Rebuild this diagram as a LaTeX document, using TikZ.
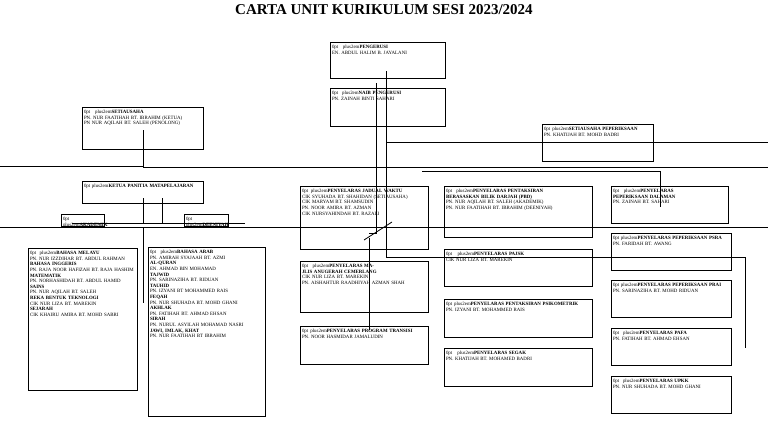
\documentclass[tikz,border=0pt]{standalone}
\usepackage{fontspec}
\setmainfont{Liberation Serif}
\begin{document}
\begin{tikzpicture}[x=1pt,y=-1pt,
  bx/.style={draw,line width=0.8pt},
  tx/.style={anchor=north,align=center,font=\fontsize{4.9}{5.6}\selectfont\hyphenpenalty=10000\exhyphenpenalty=10000,inner sep=0pt},
  ln/.style={line width=0.8pt}]
\useasboundingbox (0,0) rectangle (768,432);
\fill[white] (0,0) rectangle (768,432);
\node[font=\bfseries\fontsize{15}{16}\selectfont] (title) at (384,10) {CARTA UNIT KURIKULUM SESI 2023/2024};
\newcommand\bxx[6]{\draw[bx] (#2,#3) rectangle (#4,#5); \node[tx,text width={(#4-#2-4)*1pt}] (#1) at ({(#2+#4)/2},{#3+3}) {#6};}
\bxx{peng}{330}{42}{445}{78}{\textbf{PENGERUSI}\\EN. ABDUL HALIM B. JAYALANI}
\bxx{naib}{330}{88}{445}{126}{\textbf{NAIB PENGERUSI}\\PN. ZAINAH BINTI SAHARI}
\bxx{su}{82}{107}{203}{149}{\textbf{SETIAUSAHA}\\PN. NUR FAATIHAH BT. IBRAHIM (KETUA)\\PN NUR AQILAH BT. SALEH (PENOLONG)}
\bxx{sup}{542}{124}{653}{161}{\textbf{SETIAUSAHA PEPERIKSAAN}\\PN. KHATIJAH BT. MOHD BADRI}
\bxx{kp}{82}{181}{203}{203}{\textbf{KETUA PANITIA MATAPELAJARAN}}
\bxx{ak}{61}{214}{104}{226}{\textbf{AKADEMIK}}
\bxx{dn}{184}{214}{228}{226}{\textbf{DEENIYAH}}
\bxx{bm}{28}{248}{137}{390}{\textbf{BAHASA MELAYU}\\PN. NUR IZZDIHAR BT. ABDUL RAHMAN\\\textbf{BAHASA INGGERIS}\\PN. RAJA NOOR HAFIZAH BT. RAJA HASHIM\\\textbf{MATEMATIK}\\PN. NORHASHIDAH BT. ABDUL HAMID\\\textbf{SAINS}\\PN. NUR AQILAH BT. SALEH\\\textbf{REKA BENTUK TEKNOLOGI}\\CIK NUR LIZA BT. MAREKIN\\\textbf{SEJARAH}\\CIK KHAIRU AMIRA BT. MOHD SABRI}
\bxx{ba}{148}{247}{265}{416}{\textbf{BAHASA ARAB}\\PN. AMIRAH SYAJAAH BT. AZMI\\\textbf{AL-QURAN}\\EN. AHMAD BIN MOHAMAD\\\textbf{TAJWID}\\PN. SARINAZIHA BT. RIDUAN\\\textbf{TAUHID}\\PN. IZYANI BT MOHAMMED RAIS\\\textbf{FEQAH}\\PN. NUR SHUHADA BT. MOHD GHANI\\\textbf{AKHLAK}\\PN. FATIHAH BT. AHMAD EHSAN\\\textbf{SIRAH}\\PN. NURUL ASYILAH MOHAMAD NASRI\\\textbf{JAWI, IMLAK, KHAT}\\PN. NUR FAATIHAH BT IBRAHIM}
\bxx{jw}{300}{186}{428}{249}{\textbf{PENYELARAS JADUAL WAKTU}\\CIK SYUHADA BT. SHAHIDAN (SETIAUSAHA)\\CIK MARYAM BT. SHAMSUDIN\\PN. NOOR AMIRA BT. AZMAN\\CIK NURSYAHINDAH BT. RAZALI}
\bxx{pbd}{444}{186}{592}{237}{\textbf{PENYELARAS PENTAKSIRAN BERASASKAN BILIK DARJAH (PBD)}\\PN. NUR AQILAH BT. SALEH (AKADEMIK)\\PN. NUR FAATIHAH BT. IBRAHIM (DEENIYAH)}
\bxx{ppd}{611}{186}{728}{223}{\textbf{PENYELARAS PEPERIKSAAN DALAMAN}\\PN. ZAINAH BT. SAHARI}
\bxx{psra}{611}{233}{731}{270}{\textbf{PENYELARAS PEPERIKSAAN PSRA}\\PN. FARIDAH BT. AWANG}
\bxx{mac}{300}{261}{428}{312}{\textbf{PENYELARAS MAJLIS ANUGERAH CEMERLANG}\\CIK NUR LIZA BT. MAREKIN\\PN. AISHAHTUR RAADHIYAH AZMAN SHAH}
\bxx{pajsk}{444}{249}{592}{286}{\textbf{PENYELARAS PAJSK}\\CIK NUR LIZA BT. MAREKIN}
\bxx{pt}{300}{326}{428}{364}{\textbf{PENYELARAS PROGRAM TRANSISI}\\PN. NOOR HASMIDAR JAMALUDIN}
\bxx{psi}{444}{299}{592}{337}{\textbf{PENYELARAS PENTAKSIRAN PSIKOMETRIK}\\PN. IZYANI BT. MOHAMMED RAIS}
\bxx{seg}{444}{348}{592}{386}{\textbf{PENYELARAS SEGAK}\\PN. KHATIJAH BT. MOHAMED BADRI}
\bxx{prai}{611}{280}{731}{317}{\textbf{PENYELARAS PEPERIKSAAN PRAI}\\PN. SARINAZIHA BT. MOHD RIDUAN}
\bxx{pafa}{611}{328}{731}{365}{\textbf{PENYELARAS PAFA}\\PN. FATIHAH BT. AHMAD EHSAN}
\bxx{upkk}{611}{376}{731}{413}{\textbf{PENYELARAS UPKK}\\PN. NUR SHUHADA BT. MOHD GHANI}
\draw[ln] (386,71) -- (386,257) -- (745,257) -- (745,348);
\draw[ln] (386,142) -- (768,142);
\draw[ln] (376,83) -- (376,233) -- (369,233);
\draw[ln] (364,240) -- (392,222);
\draw[ln] (369,238) -- (369,330);
\draw[ln] (143,130) -- (143,167) -- (768,167);
\draw[ln] (0,166) -- (143,166);
\draw[ln] (422,171) -- (660,171) -- (660,207);
\draw[ln] (0,227) -- (768,227);
\draw[ln] (72,223) -- (245,223);
\draw[ln] (143,198) -- (143,223);
\draw[ln] (162,198) -- (162,223);
\draw[ln] (143,227) -- (143,303);
\end{tikzpicture}
\end{document}
